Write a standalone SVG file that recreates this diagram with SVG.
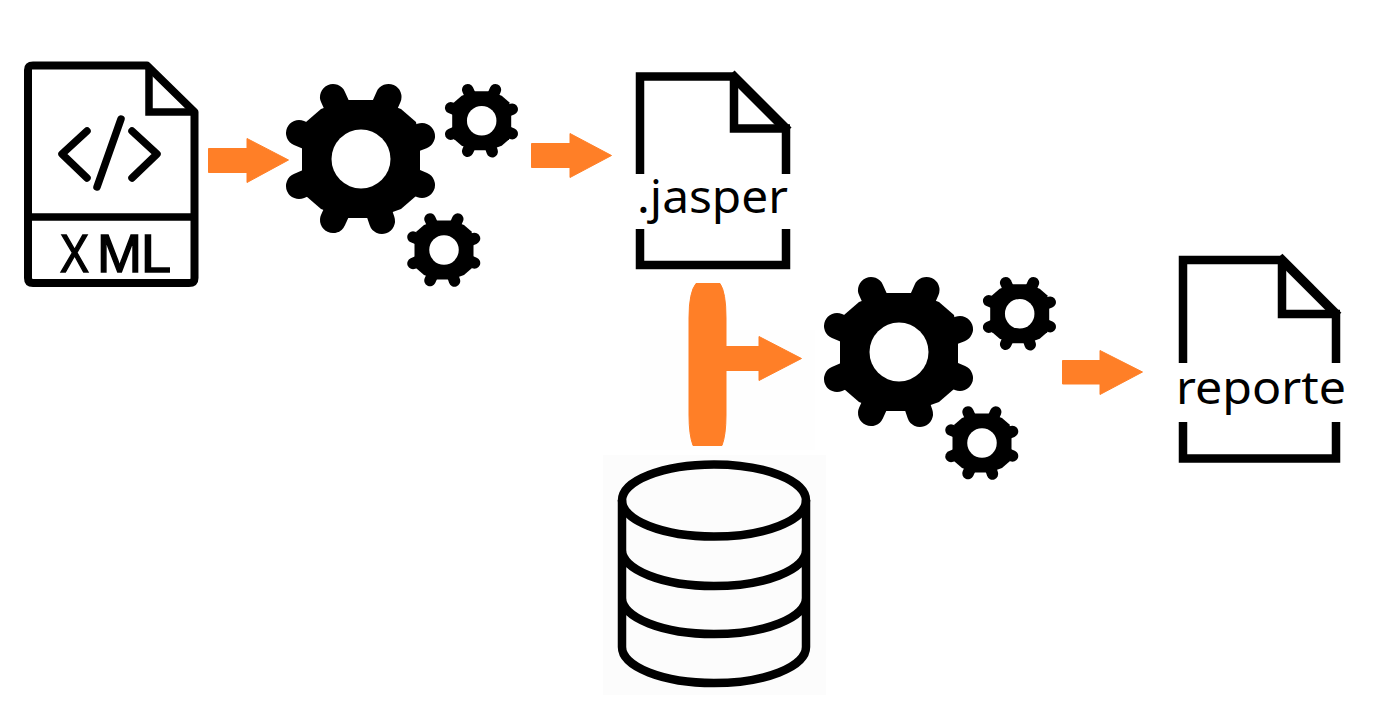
<svg xmlns="http://www.w3.org/2000/svg" width="1374" height="720" viewBox="0 0 1374 720">
<style>
.ln{fill:none;stroke:#000;stroke-linecap:butt;stroke-linejoin:miter}
.db{fill:none;stroke:#000;stroke-width:8.5}
.cod{fill:none;stroke:#000;stroke-width:7.5;stroke-linecap:round;stroke-linejoin:round}
.arr{fill:#ff7f27;stroke:#ff7f27;stroke-width:1;stroke-linejoin:round}
.tx{font-family:"Noto Sans","DejaVu Sans",sans-serif;fill:#000;font-size:45px}
.patch{fill:#fcfcfc}
.patch2{fill:#fefefe}
</style>
<defs>
<g id="gear">
<polygon points="15,-59 40,-50 55,-37 59,-16 59,16 55,37 40,50 15,59 -15,59 -40,50 -55,37 -59,16 -59,-16 -55,-37 -40,-50 -15,-59" fill="#000"/>
<g stroke="#000" stroke-linecap="round">
<line x1="0" y1="0" x2="27.500" y2="-62"/><line x1="0" y1="0" x2="-28" y2="-62"/>
<line x1="0" y1="0" x2="61" y2="-23"/><line x1="0" y1="0" x2="61" y2="26"/>
<line x1="0" y1="0" x2="21" y2="62"/><line x1="0" y1="0" x2="-28" y2="61"/>
<line x1="0" y1="0" x2="-62" y2="27"/><line x1="0" y1="0" x2="-62" y2="-26"/>
</g>
<circle r="29.500" fill="#fff"/>
</g>
<g id="gears">
<use href="#gear" x="361" y="159" stroke-width="26"/>
<use href="#gear" transform="translate(481.700 120.700) scale(.5)" stroke-width="23"/>
<use href="#gear" transform="translate(444 250) scale(.5)" stroke-width="23"/>
</g>
</defs>
<rect width="1374" height="720" fill="#fff"/>
<g id="background">
<rect class="patch" x="603" y="455" width="223" height="240"/>
<rect class="patch2" x="640" y="330" width="175" height="120"/>
</g>
<g id="xml-file">
<path d="M28 70Q28 65.500 33 65.500H147L194.500 112V278Q194.500 283 189 283H33Q28 283 28 278Z" fill="none" stroke="#000" stroke-width="8" stroke-linejoin="round"/>
<path class="ln" stroke-width="7.500" d="M149 66V112H195M28 217H195"/>
<path class="cod" d="M87 131L62 154L87 178M132 131L157 154L132 178M121 119L97 187"/>
<text y="272" font-family="Liberation Sans,sans-serif" font-size="54" stroke="#000" stroke-width="1.500"><tspan x="60" textLength="29" lengthAdjust="spacingAndGlyphs">X</tspan><tspan x="97">M</tspan><tspan x="141">L</tspan></text>
</g>
<g id="gears-1"><use href="#gears"/></g>
<g id="jasper-file">
<path class="ln" stroke-width="8.500" d="M640 174V76.500H734M786 128.500V174M734 76.500V128.500H790M640 229V265H786V229"/>
<path class="ln" stroke-width="10" d="M731 74L788 131"/>
<text class="tx" x="637" y="213" textLength="151" lengthAdjust="spacingAndGlyphs">.jasper</text>
</g>
<g id="gears-2"><use href="#gears" x="538" y="193"/></g>
<g id="report-file">
<path class="ln" stroke-width="8.500" d="M1183 363V260H1282M1336 314V363M1282 260V314H1340"/>
<path class="ln" stroke-width="9.500" d="M1279 257L1338 316"/>
<path class="ln" stroke-width="8.500" d="M1183 422V458.500H1336V422"/>
<text class="tx" x="1176" y="404" textLength="170" lengthAdjust="spacingAndGlyphs">reporte</text>
</g>
<g id="database">
<ellipse class="db" cx="714" cy="500.500" rx="92" ry="36"/>
<path class="db" d="M622 500V647A92 36 0 0 0 806 647V500M622 550A92 36 0 0 0 806 550M622 598A92 36 0 0 0 806 598"/>
</g>
<g id="connectors">
<polygon class="arr" points="208.500,148.500 247,148.500 247,138.500 288.500,160 247,182.500 247,172.500 208.500,172.500"/>
<polygon class="arr" points="531.500,143.500 570,143.500 570,133.500 611.500,155.500 570,177.500 570,167.500 531.500,167.500"/>
<polygon class="arr" points="1062.500,360.500 1100,360.500 1100,350.500 1142.500,372 1100,394.500 1100,384 1062.500,384"/>
<path class="arr" d="M696 283.500H720Q726 292 726 318V346.500H759V336.500L801.500,358.500L759 380.500V370.500H726V415Q726 435 722 445.500H693Q689 435 689 415V318Q689 292 696 283.500Z"/>
</g>
</svg>
